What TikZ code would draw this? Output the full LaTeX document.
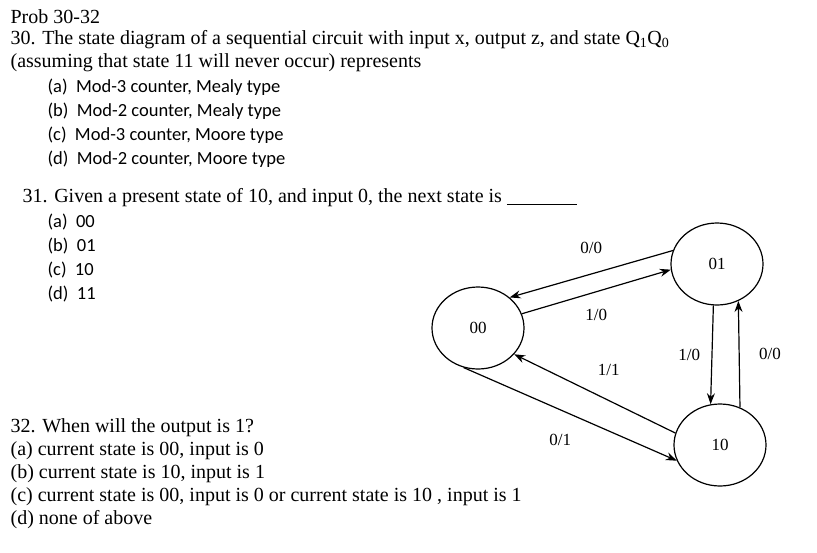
\documentclass[tikz,border=0pt]{standalone}
\usepackage{fontspec}
\setmainfont{Liberation Serif}
\newfontfamily\calfont{Carlito}
\usetikzlibrary{arrows.meta,shapes.geometric}
\begin{document}
\begin{tikzpicture}[x=1pt,y=-1pt,>={Stealth[length=11pt,width=8pt]},line width=1.2pt,
  qtext/.style={anchor=west,inner sep=0pt,font=\fontsize{20}{22}\selectfont},
  opt/.style={anchor=west,inner sep=0pt,font=\calfont\fontsize{18.5}{20}\selectfont},
  state/.style={ellipse,draw,minimum width=92pt,minimum height=82pt,font=\fontsize{17}{19}\selectfont},
  lbl/.style={font=\fontsize{17}{19}\selectfont}]
  \useasboundingbox (0,0) rectangle (817,552);
  % question 30
  \node [qtext] (title) at (10,17) {Prob 30-32};
  \node [qtext] (q30) at (10,40) {30. The state diagram of a sequential circuit with input x, output z, and state Q\textsubscript{1}Q\textsubscript{0}};
  \node [qtext] (q30b) at (10,63) {(assuming that state 11 will never occur) represents};
  \node [opt] (q30a) at (47,87) {(a)\ \ Mod-3 counter, Mealy type};
  \node [opt] (q30bb) at (47,111) {(b)\ \ Mod-2 counter, Mealy type};
  \node [opt] (q30c) at (47,135) {(c)\ \ Mod-3 counter, Moore type};
  \node [opt] (q30d) at (47,159) {(d)\ \ Mod-2 counter, Moore type};
  % question 31
  \node [qtext] (q31) at (22,198) {31. Given a present state of 10, and input 0, the next state is \rule[-2pt]{70pt}{0.7pt}};
  \node [opt] (q31a) at (47,222) {(a)\ \ 00};
  \node [opt] (q31b) at (47,246) {(b)\ \ 01};
  \node [opt] (q31c) at (47,270) {(c)\ \ 10};
  \node [opt] (q31d) at (47,294) {(d)\ \ 11};
  % question 32
  \node [qtext] (q32) at (10,428) {32. When will the output is 1?};
  \node [qtext] (q32a) at (10,451) {(a) current state is 00, input is 0};
  \node [qtext] (q32b) at (10,474) {(b) current state is 10, input is 1};
  \node [qtext] (q32c) at (10,497) {(c) current state is 00, input is 0 or current state is 10 , input is 1};
  \node [qtext] (q32d) at (10,520) {(d) none of above};
  % states
  \node [state] (s00) at (478,328) {00};
  \node [state] (s01) at (717,264) {01};
  \node [state] (s10) at (720,445) {10};
  % transitions
  \draw [->] (s01.163) -- (s00.44) node [lbl,midway,above=16pt] {0/0};
  \draw [->] (s00.18) -- (s01.187) node [lbl,midway,below=14pt] {1/0};
  \draw [->] (s10.165) -- (s00.-36) node [lbl,midway,above=14pt,xshift=14pt] {1/1};
  \draw [->] (s00.-110) -- (s10.-160) node [lbl,midway,below=16pt,xshift=-10pt] {0/1};
  \draw [->] (s01.-95) -- (s10.103) node [lbl,midway,left=8pt] {1/0};
  \draw [->] (s10.62) -- (s01.-60) node [lbl,midway,right=16pt] {0/0};
\end{tikzpicture}
\end{document}
